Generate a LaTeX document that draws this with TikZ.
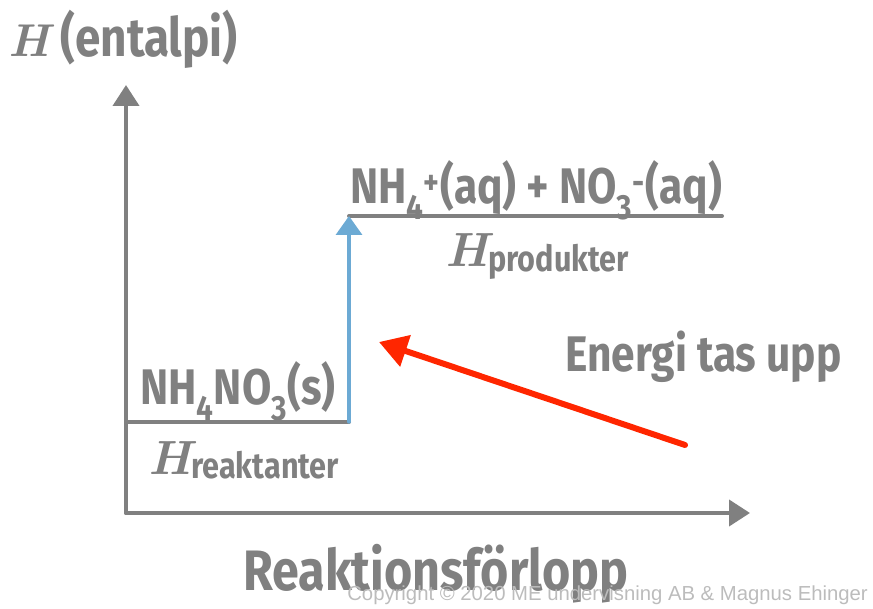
\documentclass[tikz,border=0pt]{standalone}
\usepackage{fontspec}
\setmainfont{Fira Sans}[FakeStretch=0.85]
\newfontfamily\copyfont{Liberation Sans}
\newfontfamily\hfont{Latin Modern Roman}
\usetikzlibrary{arrows.meta}
\definecolor{penGray}{RGB}{128,128,128}
\definecolor{penBlue}{RGB}{108,170,212}
\definecolor{penRed}{RGB}{255,38,0}
\definecolor{copyGray}{RGB}{188,188,188}
\newcommand{\enth}[1]{{\hfont\itshape\fontsize{#1}{#1}\selectfont H}}

\begin{document}
\begin{tikzpicture}[x=1pt,y=-1pt,
  pen/.style={line width=4pt, line cap=round, draw=penGray},
  axisarrow/.style={pen, -{Triangle[length=21pt,width=26pt]}},
  chemtext/.style={text=penGray, inner sep=0pt, font=\fontsize{50}{52}\selectfont\bfseries},
  subtext/.style={text=penGray, inner sep=0pt, font=\fontsize{36}{38}\selectfont\bfseries}]
  \useasboundingbox (0,0) rectangle (873,609);
  %axis
  \coordinate (origin) at (126,513);
  \coordinate (ytop) at (126,85);
  \coordinate (xend) at (750,513);
  \draw[axisarrow] (origin) -- (ytop);
  \draw[axisarrow] (origin) -- (xend);
  %enthalpy levels
  \coordinate (reactL) at (126,422);
  \coordinate (reactR) at (349,422);
  \coordinate (prodL) at (349,216);
  \coordinate (prodR) at (722,216);
  \draw[pen] (reactL) -- (reactR);
  \draw[pen] (prodL) -- (prodR);
  \draw[line width=3.5pt, line cap=round, draw=penBlue, -{Triangle[length=19pt,width=26pt]}] (reactR) -- (prodL);
  %heat arrow
  \coordinate (heatStart) at (685,445);
  \coordinate (heatEnd) at (379,342);
  \draw[line width=6pt, line cap=round, draw=penRed, -{Triangle[length=28pt,width=32pt]}] (heatStart) -- (heatEnd);
  %texts
  \node[chemtext, anchor=base west, font=\fontsize{54}{56}\selectfont\bfseries] (yname) at (8,57) {\enth{46} (entalpi)};
  \node[chemtext, anchor=base west] (prodname) at (350,204) {NH\textsubscript{4}\textsuperscript{+}(aq) + NO\textsubscript{3}\textsuperscript{-}(aq)};
  \node[subtext, anchor=base] (prodH) at (537,267) {\enth{48}\raisebox{-5pt}{produkter}};
  \node[chemtext, anchor=base west] (reactname) at (140,405) {NH\textsubscript{4}NO\textsubscript{3}(s)};
  \node[subtext, anchor=base west] (reactH) at (148,474) {\enth{48}\raisebox{-5pt}{reaktanter}};
  \node[chemtext, anchor=base west] (heatname) at (565,372) {Energi tas upp};
  \node[chemtext, anchor=base west, font=\fontsize{57}{59}\selectfont\bfseries] (xname) at (243,590) {Reaktionsförlopp};
  \node[text=copyGray, inner sep=0pt, anchor=base east, font=\copyfont\fontsize{20.3}{22}\selectfont] (copy) at (868,600) {Copyright © 2020 ME undervisning AB \& Magnus Ehinger};
\end{tikzpicture}
\end{document}
